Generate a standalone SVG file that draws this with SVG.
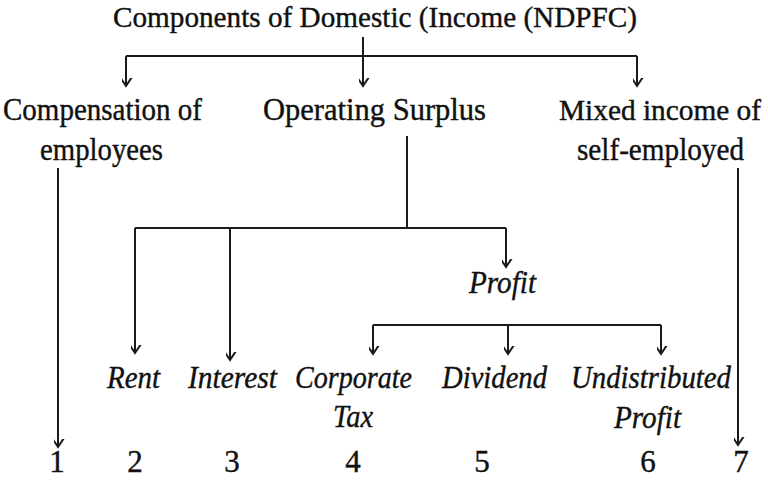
<svg xmlns="http://www.w3.org/2000/svg" width="768" height="480" viewBox="0 0 768 480">
<style>
  text { font-family: "Liberation Serif", "DejaVu Serif", serif; fill: #111; stroke: #111; stroke-width: 0.4px; }
  .t { font-size: 29px; }
  .h { font-size: 32px; }
  .hs { font-size: 30px; }
  .i { font-size: 32px; font-style: italic; }
  .n { font-size: 31px; text-anchor: middle; }
  .c { fill: none; stroke: #1a1a1a; stroke-width: 2; }
</style>
<defs>
  <marker id="arr" markerUnits="userSpaceOnUse" markerWidth="16" markerHeight="16" viewBox="-8 -12 16 16" refX="0" refY="0" orient="auto-start-reverse">
    <path d="M-6,-9 L0,0 L6,-9" transform="rotate(-90)" fill="none" stroke="#1a1a1a" stroke-width="2"/>
  </marker>
</defs>
<rect width="768" height="480" fill="#ffffff"/>
<g id="connectors">
  <path class="c" d="M363,37 V86" marker-end="url(#arr)"/>
  <path class="c" d="M126,56 H637"/>
  <path class="c" d="M126,56 V86" marker-end="url(#arr)"/>
  <path class="c" d="M637,56 V86" marker-end="url(#arr)"/>
  <path class="c" d="M58,168 V447" marker-end="url(#arr)"/>
  <path class="c" d="M738,168 V445" marker-end="url(#arr)"/>
  <path class="c" d="M407,136 V228"/>
  <path class="c" d="M135,228 H506"/>
  <path class="c" d="M135,228 V353" marker-end="url(#arr)"/>
  <path class="c" d="M230,228 V360" marker-end="url(#arr)"/>
  <path class="c" d="M506,228 V267" marker-end="url(#arr)"/>
  <path class="c" d="M373,325 H661"/>
  <path class="c" d="M373,325 V354" marker-end="url(#arr)"/>
  <path class="c" d="M508,325 V354" marker-end="url(#arr)"/>
  <path class="c" d="M661,325 V354" marker-end="url(#arr)"/>
</g>
<g id="title"><text class="t" x="113" y="27" textLength="524" lengthAdjust="spacingAndGlyphs">Components of Domestic (Income (NDPFC)</text></g>
<g id="compensation">
  <text class="h" x="3" y="120" textLength="199" lengthAdjust="spacingAndGlyphs">Compensation of</text>
  <text class="h" x="40" y="160" textLength="123" lengthAdjust="spacingAndGlyphs">employees</text>
</g>
<g id="operating"><text class="h" x="263" y="120" textLength="223" lengthAdjust="spacingAndGlyphs">Operating Surplus</text></g>
<g id="mixed">
  <text class="hs" x="559" y="120" textLength="202" lengthAdjust="spacingAndGlyphs">Mixed income of</text>
  <text class="h" x="577" y="160" textLength="167" lengthAdjust="spacingAndGlyphs">self-employed</text>
</g>
<g id="profit"><text class="i" x="469" y="293" textLength="67" lengthAdjust="spacingAndGlyphs">Profit</text></g>
<g id="rent"><text class="i" x="107" y="388" textLength="53" lengthAdjust="spacingAndGlyphs">Rent</text></g>
<g id="interest"><text class="i" x="188" y="388" textLength="89" lengthAdjust="spacingAndGlyphs">Interest</text></g>
<g id="corporate-tax">
  <text class="i" x="295" y="388" textLength="117" lengthAdjust="spacingAndGlyphs">Corporate</text>
  <text class="i" x="333" y="427" textLength="40" lengthAdjust="spacingAndGlyphs">Tax</text>
</g>
<g id="dividend"><text class="i" x="442" y="388" textLength="105" lengthAdjust="spacingAndGlyphs">Dividend</text></g>
<g id="undistributed">
  <text class="i" x="571" y="388" textLength="160" lengthAdjust="spacingAndGlyphs">Undistributed</text>
  <text class="i" x="614" y="428" textLength="67" lengthAdjust="spacingAndGlyphs">Profit</text>
</g>
<g id="numbers">
  <text class="n" x="57" y="472">1</text>
  <text class="n" x="135" y="472">2</text>
  <text class="n" x="232" y="472">3</text>
  <text class="n" x="353" y="472">4</text>
  <text class="n" x="482" y="472">5</text>
  <text class="n" x="648" y="472">6</text>
  <text class="n" x="741" y="472">7</text>
</g>
</svg>
